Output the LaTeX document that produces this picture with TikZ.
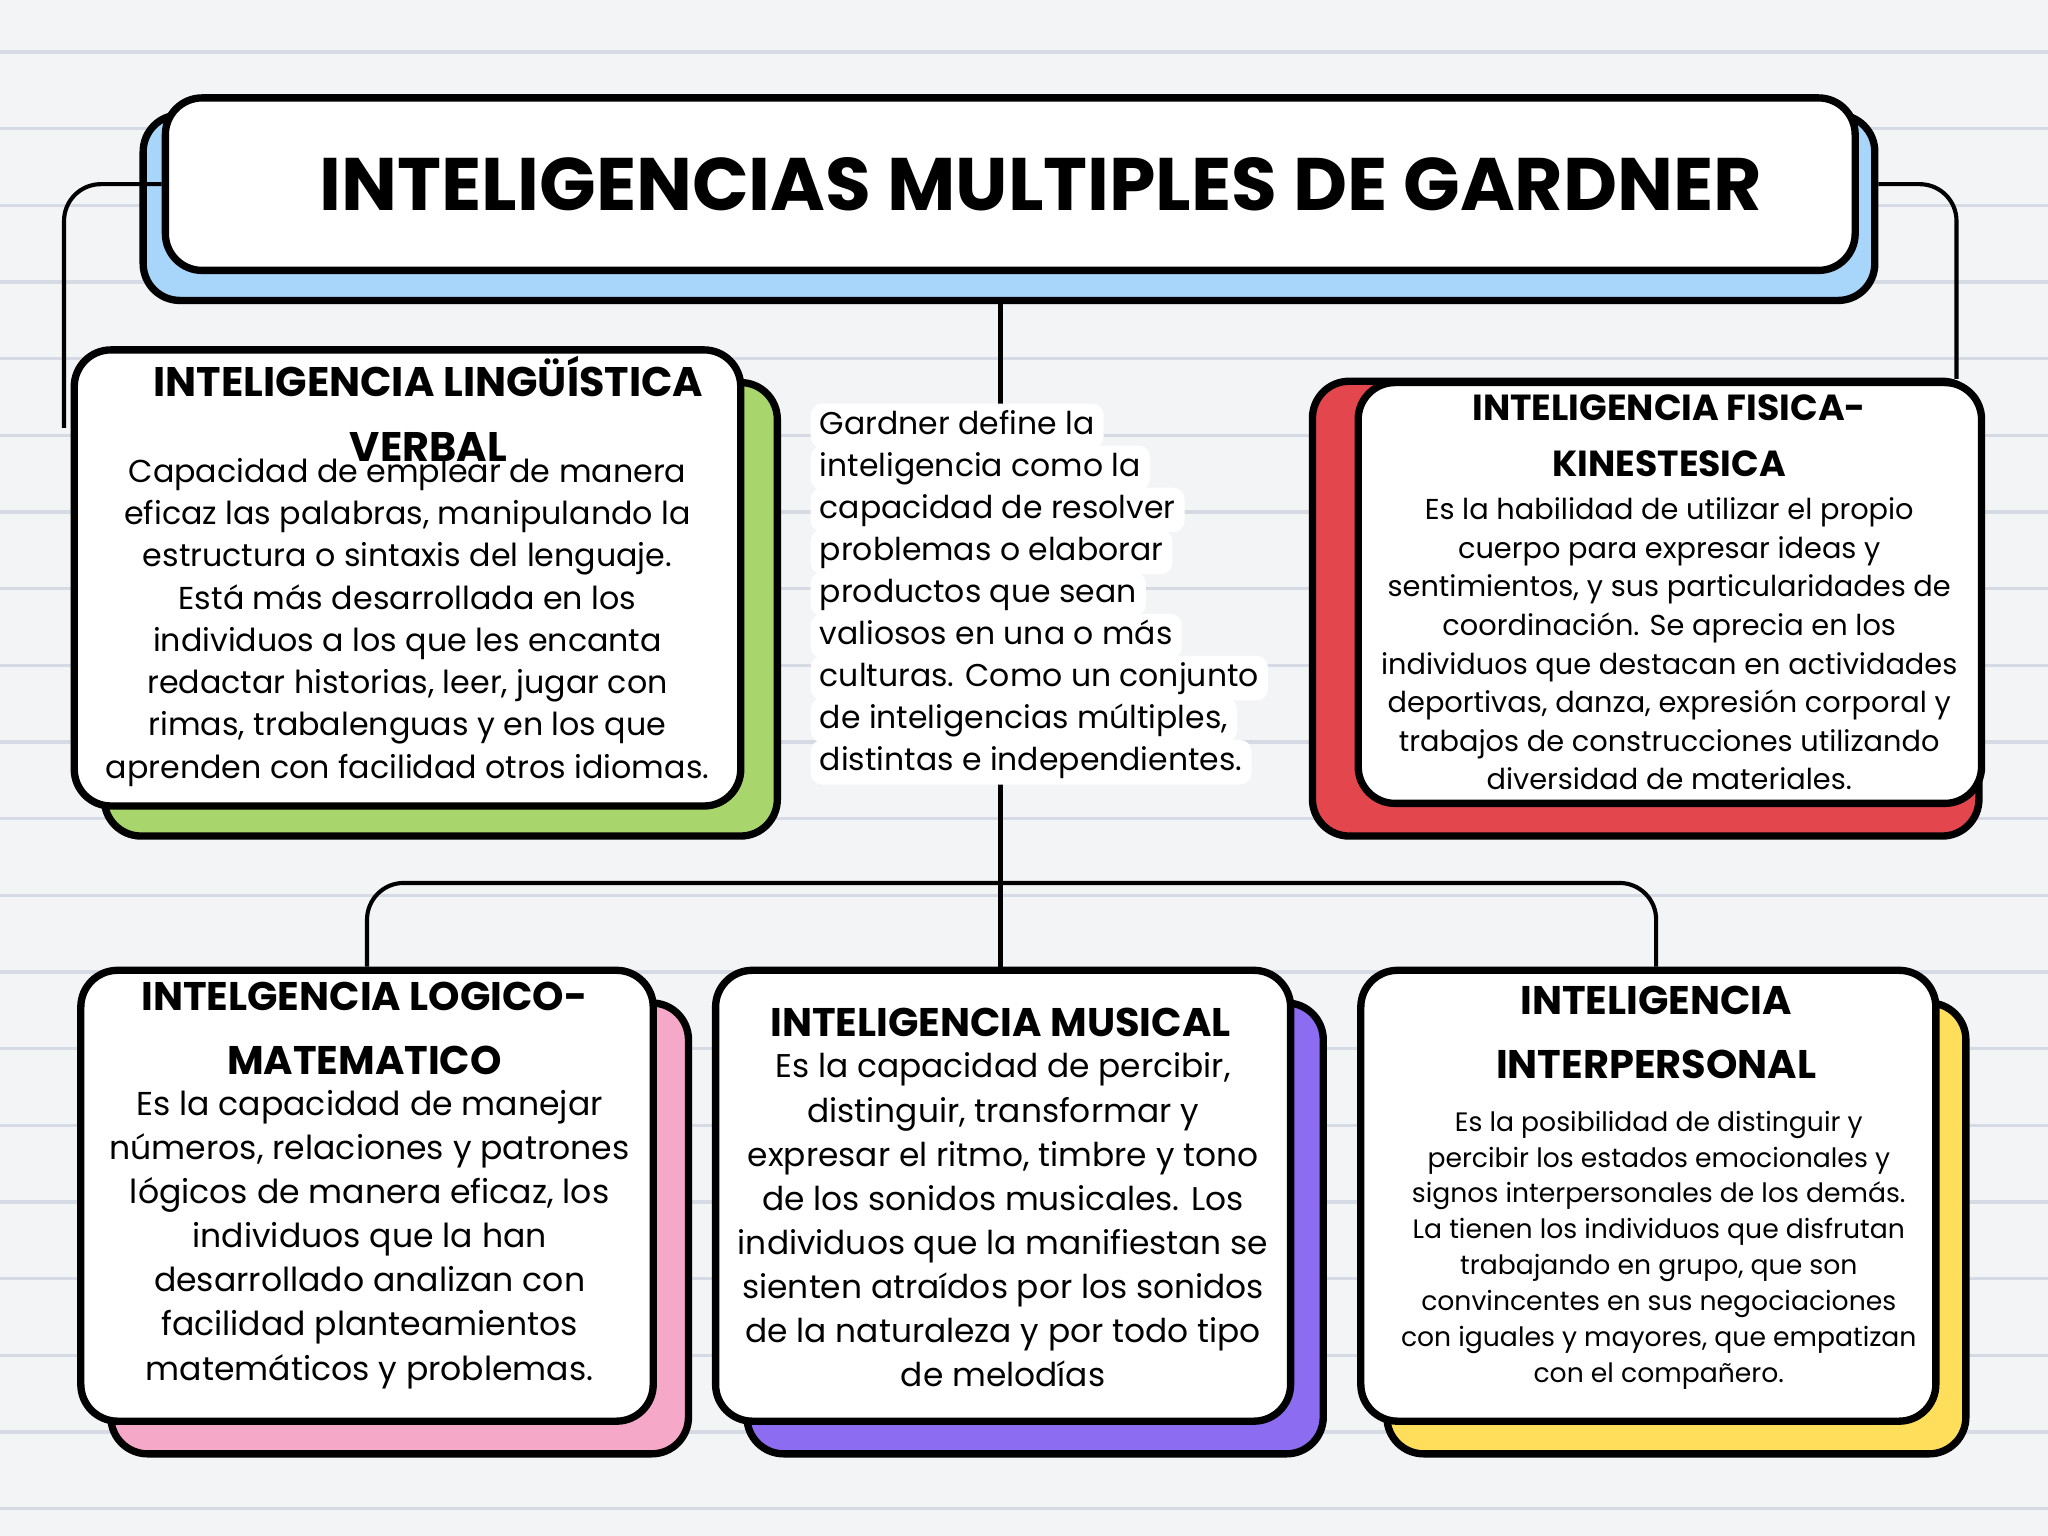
\documentclass[tikz,border=0pt]{standalone}
\usepackage{fontspec}
\setmainfont{Poppins}

\definecolor{paper}{HTML}{F3F4F6}
\definecolor{rule}{HTML}{D6DAE4}
\definecolor{bluesh}{HTML}{A8D5FA}
\definecolor{greensh}{HTML}{A9D66C}
\definecolor{redsh}{HTML}{E4464E}
\definecolor{pinksh}{HTML}{F5A8C8}
\definecolor{purplesh}{HTML}{8C6CF0}
\definecolor{yellowsh}{HTML}{FEDE5B}

\tikzset{
  card/.style={draw=black, line width=1.6pt, fill=white, rounded corners=8pt, inner sep=0pt},
  shade/.style={draw=black, line width=1.6pt, rounded corners=8pt, inner sep=0pt},
  head/.style={font=\fontsize{8.7}{14}\selectfont\bfseries, align=center, inner sep=0pt},
  body/.style={font=\fontsize{6.9}{9.2}\selectfont, align=center, inner sep=0pt},
  link/.style={line width=0.9pt, rounded corners=8pt},
  note/.style={fill=white, rounded corners=2.5pt, inner xsep=2pt, inner ysep=1.3pt,
    text height=5.4pt, text depth=1.7pt, anchor=west, font=\fontsize{6.85}{9.2}\selectfont}
}

\begin{document}
\begin{tikzpicture}[x=0.01cm, y=-0.01cm]
    % Hoja rayada
    \useasboundingbox (0,0) rectangle (1568,1176);
    \fill[paper] (0,0) rectangle (1568,1176);
    \foreach \k in {0,...,19} \draw[rule, line width=0.7pt] (0,39.8+58.7*\k) -- (1568,39.8+58.7*\k);

    % Sombras de colores
    \node[shade, fill=bluesh, minimum width=13.25cm, minimum height=1.42cm] (titleS) at (772.5,159) {};
    \node[shade, fill=greensh, minimum width=5.15cm, minimum height=3.47cm] (lingS) at (337.5,466.5) {};
    \node[shade, fill=redsh, minimum width=5.10cm, minimum height=3.48cm] (physS) at (1260,466) {};
    \node[shade, fill=pinksh, minimum width=4.42cm, minimum height=3.45cm] (logicS) at (306,940.5) {};
    \node[shade, fill=purplesh, minimum width=4.41cm, minimum height=3.45cm] (musS) at (792.5,940.5) {};
    \node[shade, fill=yellowsh, minimum width=4.43cm, minimum height=3.45cm] (interS) at (1283.5,940.5) {};

    % Tarjetas blancas
    \node[card, minimum width=12.93cm, minimum height=1.32cm] (title) at (773.5,141) {};
    \node[card, minimum width=5.10cm, minimum height=3.49cm] (ling) at (312,442.5) {};
    \node[card, minimum width=4.77cm, minimum height=3.22cm] (phys) at (1278.5,454) {};
    \node[card, minimum width=4.38cm, minimum height=3.45cm] (logic) at (281,915.5) {};
    \node[card, minimum width=4.40cm, minimum height=3.45cm] (mus) at (768,915.5) {};
    \node[card, minimum width=4.40cm, minimum height=3.45cm] (inter) at (1262,915.5) {};

    % Conectores
    \coordinate (hub) at (766,676);
    \draw[link] (title.west) -| ([xshift=-0.05cm]ling.156);
    \draw[link] (title.east -| titleS.east) -| ([xshift=-0.22cm]phys.north east);
    \draw[link] (titleS.south -| hub) -- (hub |- mus.north);
    \draw[link] (logic.north) |- (hub) -| ([xshift=0.06cm]inter.north);

    % Titulo
    \node[font=\fontsize{16.2}{16}\selectfont\bfseries] (titletxt) at (797,141) {INTELIGENCIAS MULTIPLES DE GARDNER};

    % Texto central
    \foreach \t [count=\i] in {Gardner define la, inteligencia como la, capacidad de resolver,
        problemas o elaborar, productos que sean, valiosos en una o más,
        culturas. Como un conjunto, {de inteligencias múltiples,}, distintas e independientes.}
      \node[note] (c\i) at (620,326+32.2*\i-32.2) {\t};

    % Inteligencia linguistica
    \node[head, font=\fontsize{9}{14.2}\selectfont\bfseries] (lingH) at (328,313) {INTELIGENCIA LINGÜÍSTICA\\VERBAL};
    \node[body] (lingB) at (312,476.5) {Capacidad de emplear de manera\\
      eficaz las palabras, manipulando la\\estructura o sintaxis del lenguaje.\\
      Está más desarrollada en los\\individuos a los que les encanta\\
      redactar historias, leer, jugar con\\rimas, trabalenguas y en los que\\
      aprenden con facilidad otros idiomas.};

    % Inteligencia fisica
    \node[head, font=\fontsize{7.9}{12.2}\selectfont\bfseries] (physH) at (1278,333.5) {INTELIGENCIA FISICA-\\KINESTESICA};
    \node[body, font=\fontsize{6.27}{8.4}\selectfont] (physB) at (1278,493) {Es la habilidad de utilizar el propio\\
      cuerpo para expresar ideas y\\sentimientos, y sus particularidades de\\
      coordinación. Se aprecia en los\\individuos que destacan en actividades\\
      deportivas, danza, expresión corporal y\\trabajos de construcciones utilizando\\
      diversidad de materiales.};

    % Inteligencia logico-matematica
    \node[head] (logicH) at (279,787.5) {INTELGENCIA LOGICO-\\MATEMATICO};
    \node[body, font=\fontsize{7.2}{9.6}\selectfont] (logicB) at (283,949) {Es la capacidad de manejar\\
      números, relaciones y patrones\\lógicos de manera eficaz, los\\
      individuos que la han\\desarrollado analizan con\\
      facilidad planteamientos\\matemáticos y problemas.};

    % Inteligencia musical
    \node[head] (musH) at (766,783) {INTELIGENCIA MUSICAL};
    \node[body, font=\fontsize{7.15}{9.6}\selectfont] (musB) at (768,934) {Es la capacidad de percibir,\\
      distinguir, transformar y\\expresar el ritmo, timbre y tono\\
      de los sonidos musicales. Los\\individuos que la manifiestan se\\
      sienten atraídos por los sonidos\\de la naturaleza y por todo tipo\\
      de melodías};

    % Inteligencia interpersonal
    \node[head] (interH) at (1268,790.5) {INTELIGENCIA\\INTERPERSONAL};
    \node[body, font=\fontsize{5.8}{7.8}\selectfont] (interB) at (1270,957) {Es la posibilidad de distinguir y\\
      percibir los estados emocionales y\\signos interpersonales de los demás.\\
      La tienen los individuos que disfrutan\\trabajando en grupo, que son\\
      convincentes en sus negociaciones\\con iguales y mayores, que empatizan\\
      con el compañero.};
\end{tikzpicture}
\end{document}
